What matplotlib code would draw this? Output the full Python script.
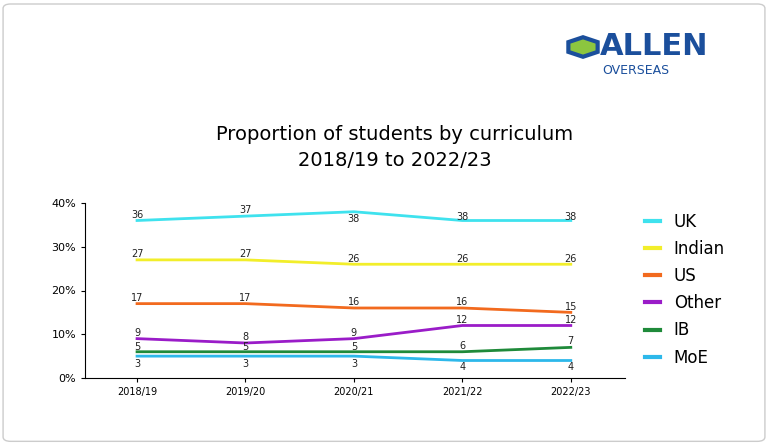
import matplotlib
matplotlib.use("Agg")
import matplotlib.pyplot as plt
from matplotlib.patches import FancyBboxPatch, RegularPolygon

years = ["2018/19", "2019/20", "2020/21", "2021/22", "2022/23"]
series_names = ["UK", "Indian", "US", "Other", "IB", "MoE"]
uk = [36, 37, 38, 36, 36]
indian = [27, 27, 26, 26, 26]
us = [17, 17, 16, 16, 15]
other = [9, 8, 9, 12, 12]
ib = [6, 6, 6, 6, 7]
moe = [5, 5, 5, 4, 4]
uk_labels = [36, 37, 38, 38, 38]
indian_labels = [27, 27, 26, 26, 26]
us_labels = [17, 17, 16, 16, 15]
other_labels = [9, 8, 9, 12, 12]
ib_labels = [5, 5, 5, 6, 7]
moe_labels = [3, 3, 3, 4, 4]
colors = ["#3FE2EE", "#F2EE2A", "#F26A1E", "#9A1CC8", "#1F8A3A", "#2DB8EA"]

fig = plt.figure(figsize=(7.68, 4.44), dpi=100)
fig.patches.append(FancyBboxPatch((0.004, 0.006), 0.992, 0.985, boxstyle="round,pad=0,rounding_size=0.01",
                                  transform=fig.transFigure, fill=False, ec="#cccccc", lw=1))
ax = fig.add_axes([85/768, 1-378/444, 540/768, 175/444])
data = [uk, indian, us, other, ib, moe]
labels = [uk_labels, indian_labels, us_labels, other_labels, ib_labels, moe_labels]
x = list(range(len(years)))
for name, vals, labs, c in zip(series_names, data, labels, colors):
    ax.plot(x, vals, color=c, lw=2, label=name)
    for i, (v, l) in enumerate(zip(vals, labs)):
        dy = 1.3
        if name == "UK" and i >= 2:
            dy = -1.6 if i == 2 else 0.9
        if name in ("IB",):
            dy = 1.0 if i < 3 else 1.4
        if name == "MoE":
            dy = -1.7 if i < 3 else -1.5
        ax.text(i, v + dy, str(l), ha="center", va="center", fontsize=7, color="#222222")
ax.set_xlim(-0.48, 4.5)
ax.set_ylim(0, 40)
ax.set_yticks([0, 10, 20, 30, 40])
ax.set_yticklabels(["0%", "10%", "20%", "30%", "40%"], fontsize=8)
ax.set_xticks(x)
ax.set_xticklabels(years, fontsize=7)
for s in ["top", "right"]:
    ax.spines[s].set_visible(False)
ax.tick_params(length=3)
leg = ax.legend(loc="upper left", bbox_to_anchor=(1.01, 1.03), frameon=False, fontsize=12,
                handlelength=0.9, labelspacing=0.55, handletextpad=0.8)
for h in leg.get_lines():
    h.set_linewidth(3)
fig.text(395/768, 1-135/444, "Proportion of students by curriculum", ha="center", va="center", fontsize=14)
fig.text(395/768, 1-160/444, "2018/19 to 2022/23", ha="center", va="center", fontsize=14)
# logo
fig.patches.append(RegularPolygon((583/768, 1-47/444), 6, radius=0.022, transform=fig.transFigure,
                                  fc="#8CC63F", ec="#1B4F9C", lw=3))
fig.text(600/768, 1-46/444, "ALLEN", fontsize=22, fontweight="bold", color="#1B4F9C", va="center")
fig.text(602/768, 1-70/444, "OVERSEAS", fontsize=9, color="#1B4F9C", va="center")
fig.savefig("out.png", dpi=100)
